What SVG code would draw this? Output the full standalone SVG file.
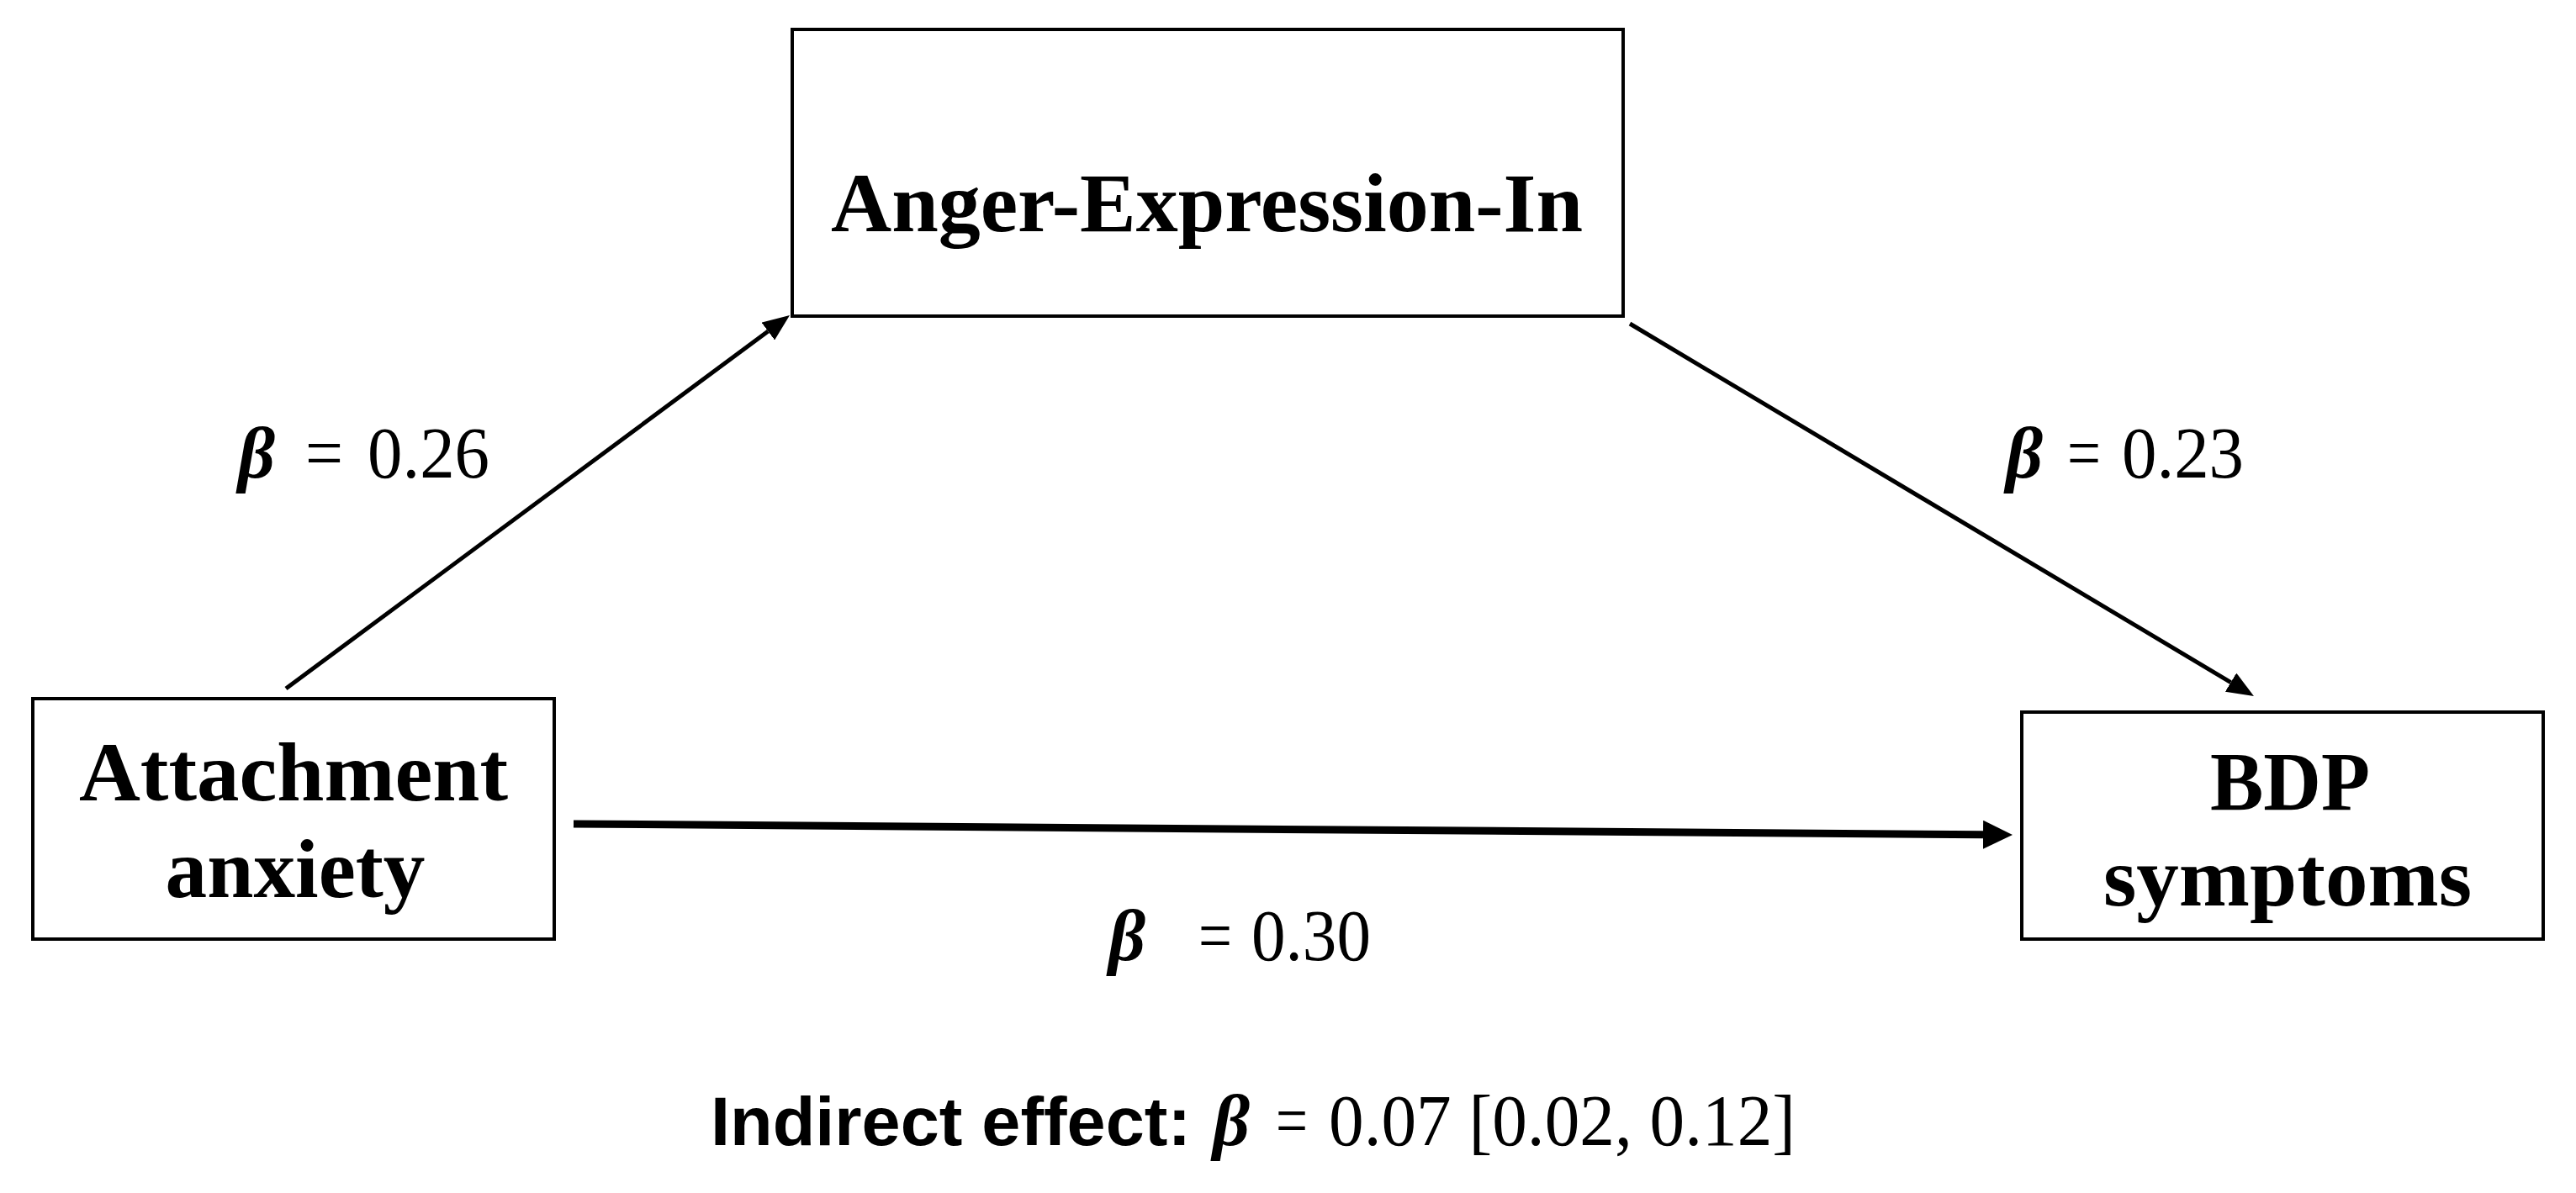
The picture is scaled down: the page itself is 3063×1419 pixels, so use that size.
<svg xmlns="http://www.w3.org/2000/svg" width="3063" height="1419" viewBox="0 0 3063 1419">
<style>
.box{fill:#fff;stroke:#000;stroke-width:4}
.node{font-family:"Liberation Serif","DejaVu Serif",serif;font-weight:bold;font-size:99px;fill:#000;text-anchor:middle}
.lbl{font-family:"Liberation Serif","DejaVu Serif",serif;font-size:86px;fill:#000}
.beta{font-weight:bold;font-style:italic}
.conn{fill:none;stroke:#000}
.ind{font-family:"Liberation Sans","DejaVu Sans",sans-serif;font-size:82px;font-weight:bold;fill:#000}
</style>
<defs>
<marker id="ahd" markerUnits="userSpaceOnUse" markerWidth="32" markerHeight="26" refX="0" refY="13" orient="auto"><path d="M0,0 L32,13 L0,26 z" fill="#000"/></marker>
<marker id="ahh" markerUnits="userSpaceOnUse" markerWidth="35" markerHeight="34" refX="0" refY="17" orient="auto"><path d="M0,0 L35,17 L0,34 z" fill="#000"/></marker>
</defs>
<rect width="3063" height="1419" fill="#fff"/>
<g id="connectors">
<path class="conn" stroke-width="5" d="M340,819 L913.3,394.1" marker-end="url(#ahd)"/>
<path class="conn" stroke-width="5" d="M1938,385 L2652.5,811.6" marker-end="url(#ahd)"/>
<path class="conn" stroke-width="9" d="M682,980 L2358,992.7" marker-end="url(#ahh)"/>
</g>
<g id="node-anger">
<rect class="box" x="942" y="35" width="988" height="341"/>
<text class="node" x="1435" y="275" textLength="894" lengthAdjust="spacingAndGlyphs">Anger-Expression-In</text>
</g>
<g id="node-attachment">
<rect class="box" x="39" y="831" width="620" height="286"/>
<text class="node" x="349" y="952" textLength="510" lengthAdjust="spacingAndGlyphs">Attachment</text>
<text class="node" x="351" y="1067" textLength="309" lengthAdjust="spacingAndGlyphs">anxiety</text>
</g>
<g id="node-bdp">
<rect class="box" x="2404" y="847" width="620" height="270"/>
<text class="node" x="2723" y="963" textLength="190" lengthAdjust="spacingAndGlyphs">BDP</text>
<text class="node" x="2720" y="1077" textLength="438" lengthAdjust="spacingAndGlyphs">symptoms</text>
</g>
<g id="labels">
<text class="lbl" y="568"><tspan class="beta" x="283">β</tspan><tspan x="363" textLength="45" lengthAdjust="spacingAndGlyphs">=</tspan><tspan x="437" textLength="145" lengthAdjust="spacingAndGlyphs">0.26</tspan></text>
<text class="lbl" y="568"><tspan class="beta" x="2385">β</tspan><tspan x="2458" textLength="40" lengthAdjust="spacingAndGlyphs">=</tspan><tspan x="2523" textLength="145" lengthAdjust="spacingAndGlyphs">0.23</tspan></text>
<text class="lbl" y="1142"><tspan class="beta" x="1318">β</tspan><tspan x="1425" textLength="40" lengthAdjust="spacingAndGlyphs">=</tspan><tspan x="1488" textLength="142" lengthAdjust="spacingAndGlyphs">0.30</tspan></text>
<text class="ind" x="845" y="1362" textLength="571" lengthAdjust="spacingAndGlyphs">Indirect effect:</text>
<text class="lbl" y="1362"><tspan class="beta" x="1442">β</tspan><tspan x="1517" textLength="38" lengthAdjust="spacingAndGlyphs">=</tspan><tspan x="1580" textLength="555" lengthAdjust="spacingAndGlyphs">0.07 [0.02, 0.12]</tspan></text>
</g>
</svg>
